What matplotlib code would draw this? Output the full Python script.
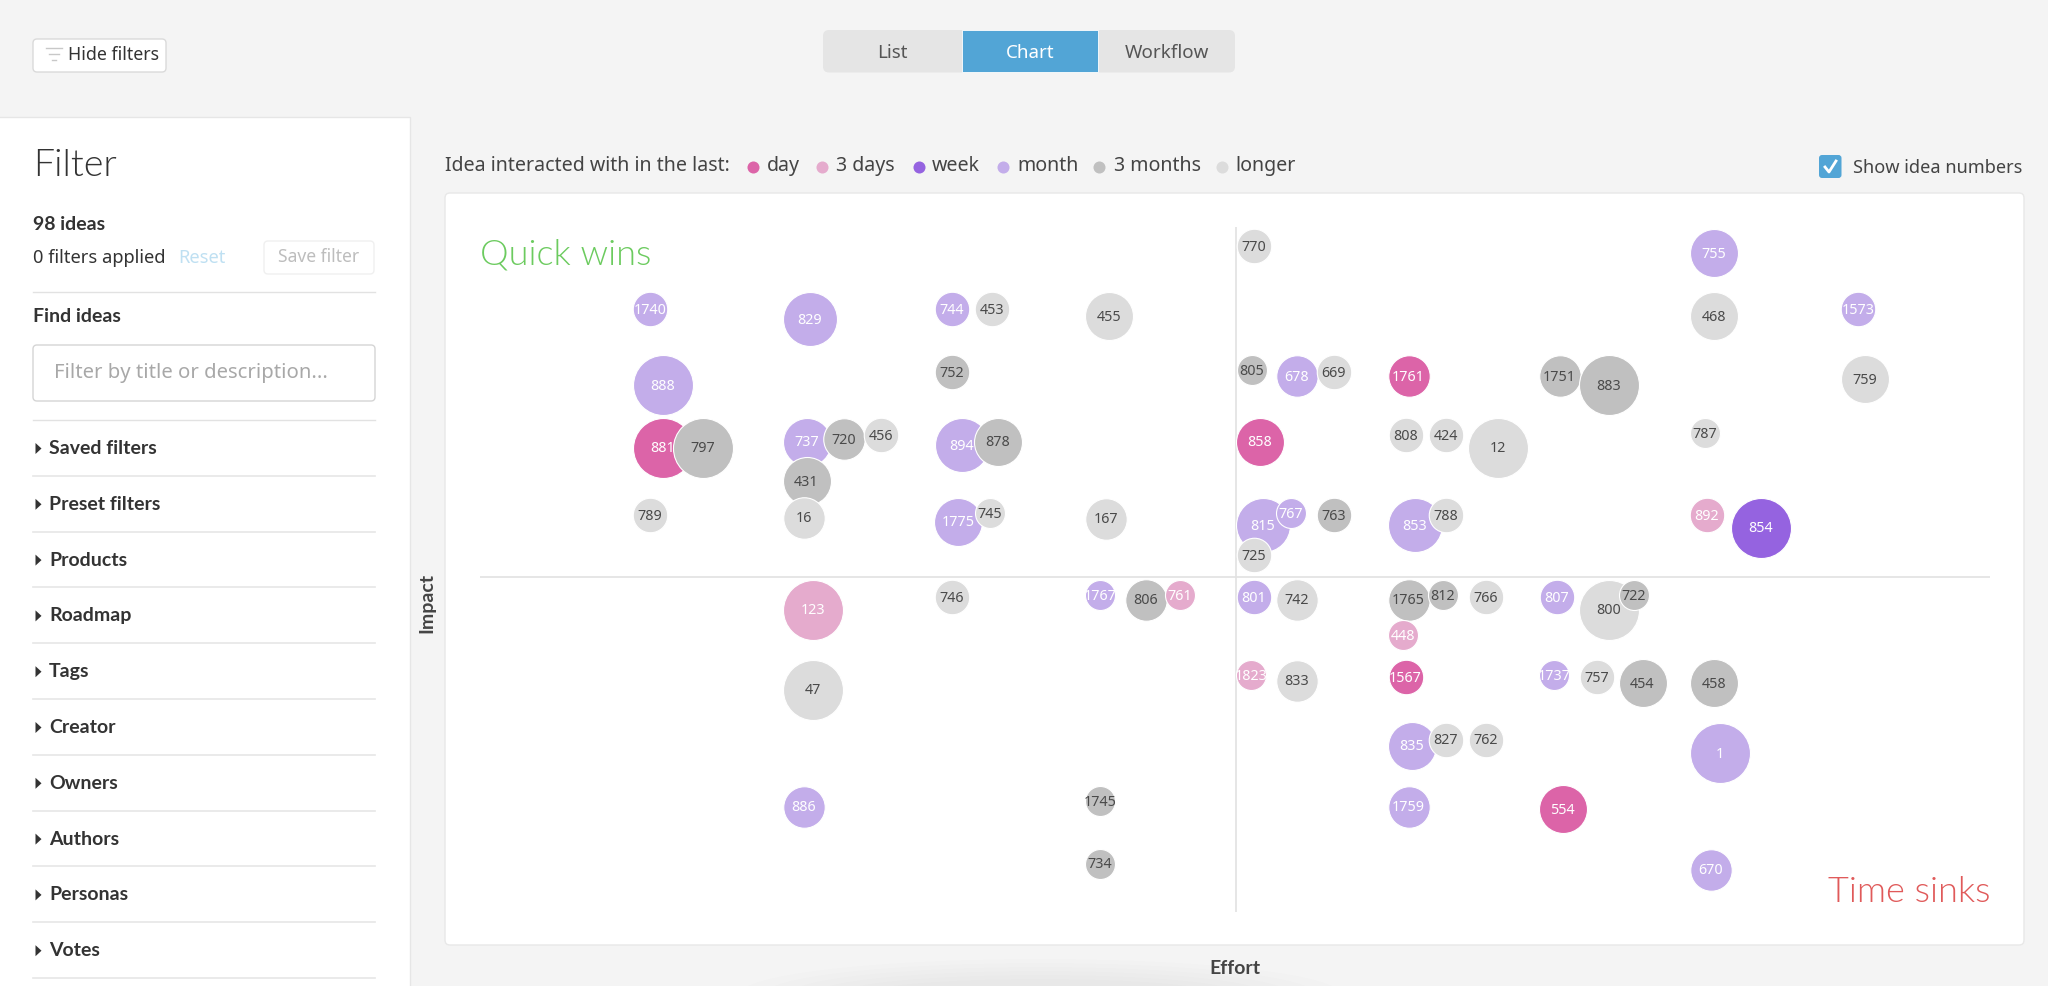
import matplotlib
matplotlib.use('Agg')
import matplotlib.pyplot as plt
from matplotlib.patches import FancyBboxPatch, Rectangle, Polygon, Ellipse

plt.rcParams['font.family'] = ['Noto Sans', 'DejaVu Sans']

# idea number, effort, impact, bubble size, last interaction
ideas = [1740, 829, 744, 453, 455, 888, 752, 881, 797, 737, 720, 456, 431, 894, 878, 789, 16, 1775, 745, 167,
         770, 755, 468, 1573, 805, 678, 669, 1761, 1751, 883, 759, 858, 808, 424, 12, 787, 815, 767, 725, 763,
         853, 788, 892, 854, 123, 746, 1767, 806, 761, 47, 886, 1745, 734, 801, 742, 1765, 812, 766, 448, 807,
         800, 722, 1823, 833, 1567, 1737, 757, 454, 458, 835, 827, 762, 1, 1759, 554, 670]
effort = [170, 330, 472, 512, 629, 183, 472, 183, 223, 326.5, 364, 401, 326.5, 481.5, 518, 170, 324, 478, 510, 626,
          773.5, 1234, 1234, 1378, 772, 817, 854, 928.5, 1079.5, 1129, 1385, 780, 925.5, 965.5, 1018, 1225, 783, 811, 773.5, 854,
          934.5, 965.5, 1227, 1280.5, 333, 472, 620, 665.5, 700, 333, 324, 620, 620, 773.5, 817, 928.5, 962.5, 1005.5, 923, 1076.5,
          1129, 1153.5, 771, 817, 925.5, 1074, 1117, 1162.5, 1234, 931.5, 965.5, 1005.5, 1240, 928.5, 1082.5, 1231]
impact = [603, 593, 603, 603, 596, 527, 540, 464, 464, 470, 473, 477, 431, 467, 470, 397, 394, 390, 399, 393.5,
          666, 659, 596, 603, 542, 536, 540, 536, 536, 527, 533, 470, 477, 477, 464, 479, 387, 399, 357, 397,
          387, 397, 397, 384, 302, 315, 317, 312, 317, 222, 105.5, 111, 48, 315, 312, 312, 317, 315, 277, 315,
          302, 317, 237, 231.5, 235, 237, 235, 229, 229, 166, 172, 172, 159, 105.5, 103, 42.5]
votes = [34.5, 54, 34.5, 34.5, 48, 60, 34.5, 60, 60, 48, 41.5, 34.5, 48, 54, 48, 34.5, 41.5, 48, 30, 41.5,
         34.5, 48, 48, 34.5, 30, 41.5, 34.5, 41.5, 41.5, 60, 48, 48, 34.5, 34.5, 60, 30, 54, 30, 34.5, 34.5,
         54, 34.5, 34.5, 60, 60, 34.5, 30, 41.5, 30, 60, 41.5, 30, 30, 34.5, 41.5, 41.5, 30, 34.5, 30, 34.5,
         60, 30, 30, 41.5, 34.5, 30, 34.5, 48, 48, 48, 34.5, 34.5, 60, 41.5, 48, 41.5]
status = ['month', 'month', 'month', 'longer', 'longer', 'month', '3 months', 'day', '3 months', 'month',
          '3 months', 'longer', '3 months', 'month', '3 months', 'longer', 'longer', 'month', 'longer', 'longer',
          'longer', 'month', 'longer', 'month', '3 months', 'month', 'longer', 'day', '3 months', '3 months',
          'longer', 'day', 'longer', 'longer', 'longer', 'longer', 'month', 'month', 'longer', '3 months',
          'month', 'longer', '3 days', 'week', '3 days', 'longer', 'month', '3 months', '3 days', 'longer',
          'month', '3 months', '3 months', 'month', 'longer', '3 months', '3 months', 'longer', '3 days', 'month',
          'longer', '3 months', '3 days', 'longer', 'day', 'month', 'longer', '3 months', '3 months', 'month',
          'longer', 'longer', 'month', 'month', 'day', 'month']

legend_labels = ['day', '3 days', 'week', 'month', '3 months', 'longer']
legend_dots = [752.5, 822, 919, 1003, 1099, 1221.5]
legend_texts = [767, 836.5, 932, 1017, 1113.5, 1235]
filter_groups = ['Saved filters', 'Preset filters', 'Products', 'Roadmap', 'Tags', 'Creator',
                 'Owners', 'Authors', 'Personas', 'Votes']
view_tabs = ['List', 'Chart', 'Workflow']

colors = {'day': '#DC64A8', '3 days': '#E5ABCD', 'week': '#9563E0',
          'month': '#C3ADEA', '3 months': '#C0C0C0', 'longer': '#DCDCDC'}
text_colors = {'day': 'white', '3 days': 'white', 'week': 'white',
               'month': 'white', '3 months': '#4A4A4A', 'longer': '#4A4A4A'}
DARK = '#333333'

fig = plt.figure(figsize=(20.48, 9.86), dpi=100, facecolor='#F4F4F4')

# page layer, in screen pixels
ui = fig.add_axes([0, 0, 1, 1])
ui.set_xlim(0, 2048)
ui.set_ylim(986, 0)
ui.axis('off')


def box(x0, y0, x1, y1, face='white', edge='none', lw=1, r=4):
    ui.add_patch(FancyBboxPatch((x0, y0), x1 - x0, y1 - y0, boxstyle=f'round,pad=0,rounding_size={r}',
                                fc=face, ec=edge, lw=lw))


# faint shadow at the bottom of the page
for w, h in [(600, 70), (550, 62), (500, 54), (450, 46), (400, 38), (350, 30)]:
    ui.add_patch(Ellipse((1040, 994), w, h, fc='black', ec='none', alpha=0.008))

# hide filters button
box(33, 39, 166, 72, edge='#DADADA')
for yy, x0, x1 in [(48, 46, 62), (54, 49, 59), (60, 52, 56)]:
    ui.plot([x0, x1], [yy, yy], color='#C8C8C8', lw=1)
ui.text(68, 55, 'Hide filters', fontsize=12.8, color=DARK, va='center')

# list / chart / workflow tabs
box(823, 30, 1235, 72.5, face='#E5E5E5', r=6)
ui.add_patch(Rectangle((961.5, 30), 136.5, 41.5, fc='#52A5D6', ec='white', lw=0.6))
for name, cx in zip(view_tabs, [892, 1030, 1167]):
    ui.text(cx, 53, name, fontsize=13.5, ha='center', va='center',
            color='white' if name == 'Chart' else '#555555')

# sidebar
ui.add_patch(Rectangle((-2, 117), 412, 880, fc='white', ec='#E6E6E6', lw=1))
ui.text(33, 166, 'Filter', fontsize=27, color=DARK, va='center', family='Lato', fontweight=300)
ui.text(33, 225, '98 ideas', fontsize=14, color=DARK, va='center', family='Lato', fontweight='bold')
ui.text(33, 258, '0 filters applied', fontsize=13.2, color=DARK, va='center')
ui.text(178, 258, 'Reset', fontsize=13.2, color='#BFE0F2', va='center')
box(264, 241, 374, 274, edge='#F0F0F0')
ui.text(319, 257, 'Save filter', fontsize=12.6, color='#BDBDBD', ha='center', va='center')
ui.plot([33, 375], [292, 292], color='#E2E2E2', lw=1)
ui.text(33, 316, 'Find ideas', fontsize=14, color=DARK, va='center', family='Lato', fontweight='bold')
box(33, 345, 375, 401, edge='#D5D5D5')
ui.text(54, 373, 'Filter by title or description...', fontsize=14.6, color='#A8A8A8', va='center')
ui.plot([33, 375], [420, 420], color='#E2E2E2', lw=1)
for i, name in enumerate(filter_groups):
    yy = 448.5 + i * 55.8
    ui.add_patch(Polygon([(35.5, yy - 5.5), (41.5, yy), (35.5, yy + 5.5)], fc=DARK, ec='none'))
    ui.text(49, yy, name, fontsize=14, color=DARK, va='center', family='Lato', fontweight='bold')
    ui.plot([33, 375], [yy + 27.3, yy + 27.3], color='#E6E6E6', lw=1.2)

# legend row above the chart
ui.text(445, 166, 'Idea interacted with in the last:', fontsize=14.1, color='#444444', va='center')
for name, dx, tx in zip(legend_labels, legend_dots, legend_texts):
    ui.scatter(dx, 167, s=75, color=colors[name], linewidths=0)
    ui.text(tx, 166, name, fontsize=14.1, color='#444444', va='center')
box(1819, 155, 1841.5, 178, face='#52A5D6', r=3)
ui.plot([1825, 1829, 1836], [167, 172, 161], color='white', lw=2)
ui.text(1853, 168, 'Show idea numbers', fontsize=13.1, color='#444444', va='center')

# chart card and axis titles
box(445, 193, 2024, 945, edge='#E8E8E8', r=5)
ui.text(427, 603, 'Impact', fontsize=14, color='#444444', rotation=90, ha='center', va='center',
        family='Lato', fontweight='bold')
ui.text(1235, 968, 'Effort', fontsize=14, color='#444444', ha='center', va='center',
        family='Lato', fontweight='bold')

# chart, one unit is one pixel so the bubbles stay round
ax = fig.add_axes([480 / 2048, (986 - 912) / 986, 1510 / 2048, 685 / 986])
ax.set_xlim(0, 1510)
ax.set_ylim(0, 685)
ax.axis('off')
ax.patch.set_alpha(0)
ax.axvline(755.5, color='#E2E2E2', lw=1.2, zorder=0)
ax.axhline(335, color='#E2E2E2', lw=1.2, zorder=0)

for i in range(len(ideas)):
    d = votes[i] * 0.72
    ax.scatter(effort[i], impact[i], s=d ** 2, color=colors[status[i]], edgecolors='white', linewidths=0.8,
               zorder=1 + i, clip_on=False)
    ax.text(effort[i], impact[i] - 1, str(ideas[i]), fontsize=10.3, color=text_colors[status[i]],
            ha='center', va='center', zorder=1 + i + 0.5)

ax.text(0, 658, 'Quick wins', fontsize=26, color='#6CCB5F', va='center', family='Lato', fontweight=300)
ax.text(1510, 20, 'Time sinks', fontsize=26, color='#E05A5A', ha='right', va='center', family='Lato', fontweight=300)

plt.savefig('out.png', dpi=100)
